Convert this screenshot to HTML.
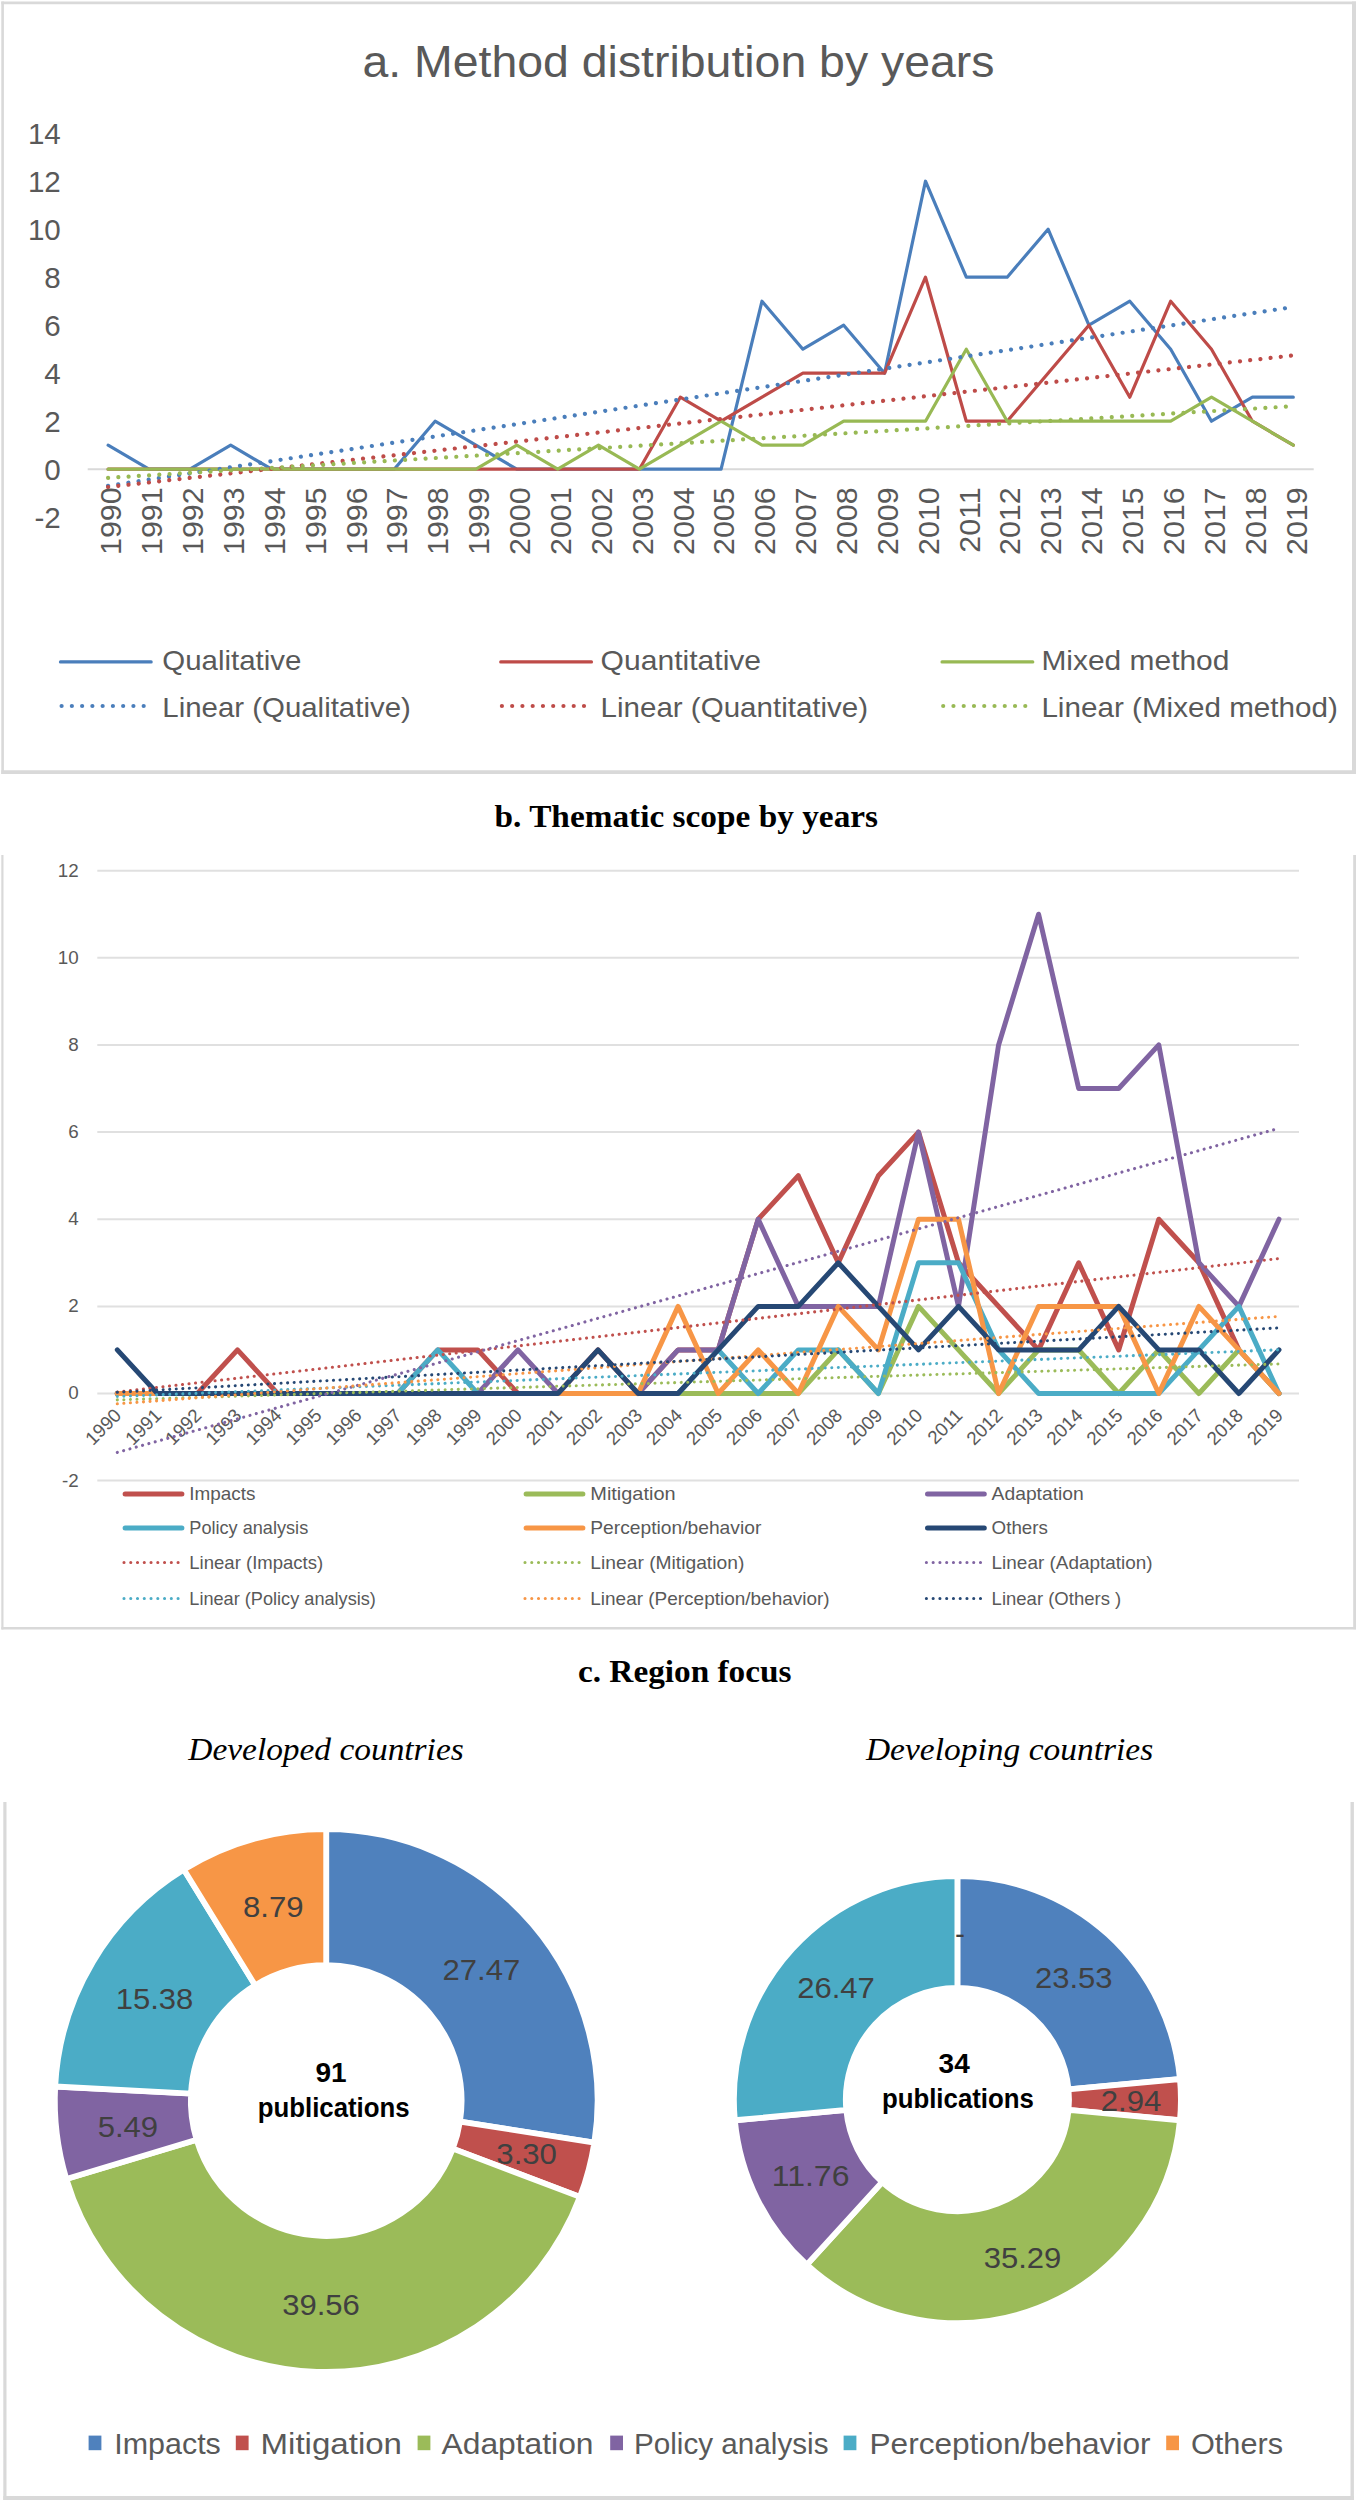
<!DOCTYPE html>
<html lang="en"><head><meta charset="utf-8"><title>Figure</title>
<style>
html,body{margin:0;padding:0;background:#fff;}
svg{display:block;font-family:"Liberation Sans",sans-serif;}
</style></head>
<body>
<svg width="1356" height="2500" viewBox="0 0 1356 2500">
<rect x="0" y="0" width="1356" height="2500" fill="#ffffff"/>
<line x1="1.3" y1="2.8" x2="1356.0" y2="2.8" stroke="#d9d9d9" stroke-width="2.7"/>
<line x1="2.6" y1="1.4" x2="2.6" y2="774.0" stroke="#d9d9d9" stroke-width="2.6"/>
<line x1="1354.0" y1="1.4" x2="1354.0" y2="774.0" stroke="#d9d9d9" stroke-width="4"/>
<line x1="1.3" y1="772.1" x2="1356.0" y2="772.1" stroke="#d9d9d9" stroke-width="3.8"/>
<text x="678.5" y="77.0" font-size="44.5" fill="#595959" text-anchor="middle" textLength="632.0" lengthAdjust="spacingAndGlyphs">a. Method distribution by years</text>
<text x="60.8" y="528.2" font-size="29.6" fill="#595959" text-anchor="end">-2</text>
<text x="60.8" y="480.2" font-size="29.6" fill="#595959" text-anchor="end">0</text>
<text x="60.8" y="432.2" font-size="29.6" fill="#595959" text-anchor="end">2</text>
<text x="60.8" y="384.2" font-size="29.6" fill="#595959" text-anchor="end">4</text>
<text x="60.8" y="336.2" font-size="29.6" fill="#595959" text-anchor="end">6</text>
<text x="60.8" y="288.2" font-size="29.6" fill="#595959" text-anchor="end">8</text>
<text x="60.8" y="240.2" font-size="29.6" fill="#595959" text-anchor="end">10</text>
<text x="60.8" y="192.2" font-size="29.6" fill="#595959" text-anchor="end">12</text>
<text x="60.8" y="144.2" font-size="29.6" fill="#595959" text-anchor="end">14</text>
<line x1="87.7" y1="469.2" x2="1313.7" y2="469.2" stroke="#d9d9d9" stroke-width="2"/>
<polyline points="108.1,445.2 149.0,469.2 189.9,469.2 230.7,445.2 271.6,469.2 312.5,469.2 353.3,469.2 394.2,469.2 435.1,421.2 475.9,445.2 516.8,469.2 557.7,469.2 598.5,469.2 639.4,469.2 680.3,469.2 721.1,469.2 762.0,301.2 802.9,349.2 843.7,325.2 884.6,373.2 925.5,181.2 966.3,277.2 1007.2,277.2 1048.1,229.2 1088.9,325.2 1129.8,301.2 1170.7,349.2 1211.5,421.2 1252.4,397.2 1293.3,397.2" fill="none" stroke="#4a7ebb" stroke-width="3.2" stroke-linejoin="round" stroke-linecap="round"/>
<polyline points="108.1,469.2 149.0,469.2 189.9,469.2 230.7,469.2 271.6,469.2 312.5,469.2 353.3,469.2 394.2,469.2 435.1,469.2 475.9,469.2 516.8,469.2 557.7,469.2 598.5,469.2 639.4,469.2 680.3,397.2 721.1,421.2 762.0,397.2 802.9,373.2 843.7,373.2 884.6,373.2 925.5,277.2 966.3,421.2 1007.2,421.2 1048.1,373.2 1088.9,325.2 1129.8,397.2 1170.7,301.2 1211.5,349.2 1252.4,421.2 1293.3,445.2" fill="none" stroke="#be4b48" stroke-width="3.2" stroke-linejoin="round" stroke-linecap="round"/>
<polyline points="108.1,469.2 149.0,469.2 189.9,469.2 230.7,469.2 271.6,469.2 312.5,469.2 353.3,469.2 394.2,469.2 435.1,469.2 475.9,469.2 516.8,445.2 557.7,469.2 598.5,445.2 639.4,469.2 680.3,445.2 721.1,421.2 762.0,445.2 802.9,445.2 843.7,421.2 884.6,421.2 925.5,421.2 966.3,349.2 1007.2,421.2 1048.1,421.2 1088.9,421.2 1129.8,421.2 1170.7,421.2 1211.5,397.2 1252.4,421.2 1293.3,445.2" fill="none" stroke="#98b954" stroke-width="3.2" stroke-linejoin="round" stroke-linecap="round"/>
<line x1="108.1" y1="485.8" x2="1293.3" y2="307.0" stroke="#4a7ebb" stroke-width="4.2" stroke-dasharray="0.01 10.25" stroke-linecap="round"/>
<line x1="108.1" y1="487.0" x2="1293.3" y2="355.4" stroke="#be4b48" stroke-width="4.2" stroke-dasharray="0.01 10.25" stroke-linecap="round"/>
<line x1="108.1" y1="477.8" x2="1293.3" y2="406.2" stroke="#98b954" stroke-width="4.2" stroke-dasharray="0.01 10.25" stroke-linecap="round"/>
<text x="121.4" y="487.4" font-size="30.4" fill="#595959" text-anchor="end" transform="rotate(-90 121.4 487.4)">1990</text>
<text x="162.3" y="487.4" font-size="30.4" fill="#595959" text-anchor="end" transform="rotate(-90 162.3 487.4)">1991</text>
<text x="203.2" y="487.4" font-size="30.4" fill="#595959" text-anchor="end" transform="rotate(-90 203.2 487.4)">1992</text>
<text x="244.0" y="487.4" font-size="30.4" fill="#595959" text-anchor="end" transform="rotate(-90 244.0 487.4)">1993</text>
<text x="284.9" y="487.4" font-size="30.4" fill="#595959" text-anchor="end" transform="rotate(-90 284.9 487.4)">1994</text>
<text x="325.8" y="487.4" font-size="30.4" fill="#595959" text-anchor="end" transform="rotate(-90 325.8 487.4)">1995</text>
<text x="366.6" y="487.4" font-size="30.4" fill="#595959" text-anchor="end" transform="rotate(-90 366.6 487.4)">1996</text>
<text x="407.5" y="487.4" font-size="30.4" fill="#595959" text-anchor="end" transform="rotate(-90 407.5 487.4)">1997</text>
<text x="448.4" y="487.4" font-size="30.4" fill="#595959" text-anchor="end" transform="rotate(-90 448.4 487.4)">1998</text>
<text x="489.2" y="487.4" font-size="30.4" fill="#595959" text-anchor="end" transform="rotate(-90 489.2 487.4)">1999</text>
<text x="530.1" y="487.4" font-size="30.4" fill="#595959" text-anchor="end" transform="rotate(-90 530.1 487.4)">2000</text>
<text x="571.0" y="487.4" font-size="30.4" fill="#595959" text-anchor="end" transform="rotate(-90 571.0 487.4)">2001</text>
<text x="611.8" y="487.4" font-size="30.4" fill="#595959" text-anchor="end" transform="rotate(-90 611.8 487.4)">2002</text>
<text x="652.7" y="487.4" font-size="30.4" fill="#595959" text-anchor="end" transform="rotate(-90 652.7 487.4)">2003</text>
<text x="693.6" y="487.4" font-size="30.4" fill="#595959" text-anchor="end" transform="rotate(-90 693.6 487.4)">2004</text>
<text x="734.4" y="487.4" font-size="30.4" fill="#595959" text-anchor="end" transform="rotate(-90 734.4 487.4)">2005</text>
<text x="775.3" y="487.4" font-size="30.4" fill="#595959" text-anchor="end" transform="rotate(-90 775.3 487.4)">2006</text>
<text x="816.2" y="487.4" font-size="30.4" fill="#595959" text-anchor="end" transform="rotate(-90 816.2 487.4)">2007</text>
<text x="857.0" y="487.4" font-size="30.4" fill="#595959" text-anchor="end" transform="rotate(-90 857.0 487.4)">2008</text>
<text x="897.9" y="487.4" font-size="30.4" fill="#595959" text-anchor="end" transform="rotate(-90 897.9 487.4)">2009</text>
<text x="938.8" y="487.4" font-size="30.4" fill="#595959" text-anchor="end" transform="rotate(-90 938.8 487.4)">2010</text>
<text x="979.6" y="487.4" font-size="30.4" fill="#595959" text-anchor="end" transform="rotate(-90 979.6 487.4)">2011</text>
<text x="1020.5" y="487.4" font-size="30.4" fill="#595959" text-anchor="end" transform="rotate(-90 1020.5 487.4)">2012</text>
<text x="1061.4" y="487.4" font-size="30.4" fill="#595959" text-anchor="end" transform="rotate(-90 1061.4 487.4)">2013</text>
<text x="1102.2" y="487.4" font-size="30.4" fill="#595959" text-anchor="end" transform="rotate(-90 1102.2 487.4)">2014</text>
<text x="1143.1" y="487.4" font-size="30.4" fill="#595959" text-anchor="end" transform="rotate(-90 1143.1 487.4)">2015</text>
<text x="1184.0" y="487.4" font-size="30.4" fill="#595959" text-anchor="end" transform="rotate(-90 1184.0 487.4)">2016</text>
<text x="1224.8" y="487.4" font-size="30.4" fill="#595959" text-anchor="end" transform="rotate(-90 1224.8 487.4)">2017</text>
<text x="1265.7" y="487.4" font-size="30.4" fill="#595959" text-anchor="end" transform="rotate(-90 1265.7 487.4)">2018</text>
<text x="1306.6" y="487.4" font-size="30.4" fill="#595959" text-anchor="end" transform="rotate(-90 1306.6 487.4)">2019</text>
<line x1="60.4" y1="661.9" x2="151.2" y2="661.9" stroke="#4a7ebb" stroke-width="3.1" stroke-linecap="round"/>
<line x1="61.6" y1="706.0" x2="149.4" y2="706.0" stroke="#4a7ebb" stroke-width="4.2" stroke-dasharray="0.01 10.25" stroke-linecap="round"/>
<text x="162.3" y="669.9" font-size="28.3" fill="#595959" textLength="139.0" lengthAdjust="spacingAndGlyphs">Qualitative</text>
<text x="162.3" y="716.5" font-size="28.3" fill="#595959" textLength="248.5" lengthAdjust="spacingAndGlyphs">Linear (Qualitative)</text>
<line x1="500.7" y1="661.9" x2="591.5" y2="661.9" stroke="#be4b48" stroke-width="3.1" stroke-linecap="round"/>
<line x1="501.9" y1="706.0" x2="589.7" y2="706.0" stroke="#be4b48" stroke-width="4.2" stroke-dasharray="0.01 10.25" stroke-linecap="round"/>
<text x="600.6" y="669.9" font-size="28.3" fill="#595959" textLength="160.5" lengthAdjust="spacingAndGlyphs">Quantitative</text>
<text x="600.6" y="716.5" font-size="28.3" fill="#595959" textLength="267.5" lengthAdjust="spacingAndGlyphs">Linear (Quantitative)</text>
<line x1="942.0" y1="661.9" x2="1032.8" y2="661.9" stroke="#98b954" stroke-width="3.1" stroke-linecap="round"/>
<line x1="943.2" y1="706.0" x2="1031.0" y2="706.0" stroke="#98b954" stroke-width="4.2" stroke-dasharray="0.01 10.25" stroke-linecap="round"/>
<text x="1041.4" y="669.9" font-size="28.3" fill="#595959" textLength="188.0" lengthAdjust="spacingAndGlyphs">Mixed method</text>
<text x="1041.4" y="716.5" font-size="28.3" fill="#595959" textLength="296.5" lengthAdjust="spacingAndGlyphs">Linear (Mixed method)</text>
<text x="686.3" y="826.8" font-size="32" fill="#000" text-anchor="middle" font-family="'Liberation Serif', serif" font-weight="bold" textLength="383.5" lengthAdjust="spacingAndGlyphs">b. Thematic scope by years</text>
<text x="684.7" y="1682.0" font-size="32" fill="#000" text-anchor="middle" font-family="'Liberation Serif', serif" font-weight="bold" textLength="213.5" lengthAdjust="spacingAndGlyphs">c. Region focus</text>
<text x="326.0" y="1759.6" font-size="32" fill="#000" text-anchor="middle" font-family="'Liberation Serif', serif" font-style="italic" textLength="275.4" lengthAdjust="spacingAndGlyphs">Developed countries</text>
<text x="1009.6" y="1759.8" font-size="32" fill="#000" text-anchor="middle" font-family="'Liberation Serif', serif" font-style="italic" textLength="287.3" lengthAdjust="spacingAndGlyphs">Developing countries</text>
<line x1="2.4" y1="855.0" x2="2.4" y2="1629.5" stroke="#d9d9d9" stroke-width="2.2"/>
<line x1="1354.6" y1="855.0" x2="1354.6" y2="1629.3" stroke="#d9d9d9" stroke-width="2.8"/>
<line x1="1.4" y1="1628.3" x2="1356.0" y2="1628.3" stroke="#d9d9d9" stroke-width="2.4"/>
<line x1="97.3" y1="1480.6" x2="1299.0" y2="1480.6" stroke="#e0e0e0" stroke-width="2"/>
<text x="78.6" y="1486.5" font-size="18.8" fill="#595959" text-anchor="end">-2</text>
<line x1="97.3" y1="1393.5" x2="1299.0" y2="1393.5" stroke="#e0e0e0" stroke-width="2"/>
<text x="78.6" y="1399.4" font-size="18.8" fill="#595959" text-anchor="end">0</text>
<line x1="97.3" y1="1306.4" x2="1299.0" y2="1306.4" stroke="#e0e0e0" stroke-width="2"/>
<text x="78.6" y="1312.3" font-size="18.8" fill="#595959" text-anchor="end">2</text>
<line x1="97.3" y1="1219.2" x2="1299.0" y2="1219.2" stroke="#e0e0e0" stroke-width="2"/>
<text x="78.6" y="1225.1" font-size="18.8" fill="#595959" text-anchor="end">4</text>
<line x1="97.3" y1="1132.1" x2="1299.0" y2="1132.1" stroke="#e0e0e0" stroke-width="2"/>
<text x="78.6" y="1138.0" font-size="18.8" fill="#595959" text-anchor="end">6</text>
<line x1="97.3" y1="1044.9" x2="1299.0" y2="1044.9" stroke="#e0e0e0" stroke-width="2"/>
<text x="78.6" y="1050.8" font-size="18.8" fill="#595959" text-anchor="end">8</text>
<line x1="97.3" y1="957.8" x2="1299.0" y2="957.8" stroke="#e0e0e0" stroke-width="2"/>
<text x="78.6" y="963.7" font-size="18.8" fill="#595959" text-anchor="end">10</text>
<line x1="97.3" y1="870.7" x2="1299.0" y2="870.7" stroke="#e0e0e0" stroke-width="2"/>
<text x="78.6" y="876.6" font-size="18.8" fill="#595959" text-anchor="end">12</text>
<text x="122.5" y="1416.6" font-size="18.8" fill="#595959" text-anchor="end" transform="rotate(-45 122.5 1416.6)">1990</text>
<text x="162.6" y="1416.6" font-size="18.8" fill="#595959" text-anchor="end" transform="rotate(-45 162.6 1416.6)">1991</text>
<text x="202.6" y="1416.6" font-size="18.8" fill="#595959" text-anchor="end" transform="rotate(-45 202.6 1416.6)">1992</text>
<text x="242.7" y="1416.6" font-size="18.8" fill="#595959" text-anchor="end" transform="rotate(-45 242.7 1416.6)">1993</text>
<text x="282.8" y="1416.6" font-size="18.8" fill="#595959" text-anchor="end" transform="rotate(-45 282.8 1416.6)">1994</text>
<text x="322.8" y="1416.6" font-size="18.8" fill="#595959" text-anchor="end" transform="rotate(-45 322.8 1416.6)">1995</text>
<text x="362.9" y="1416.6" font-size="18.8" fill="#595959" text-anchor="end" transform="rotate(-45 362.9 1416.6)">1996</text>
<text x="402.9" y="1416.6" font-size="18.8" fill="#595959" text-anchor="end" transform="rotate(-45 402.9 1416.6)">1997</text>
<text x="443.0" y="1416.6" font-size="18.8" fill="#595959" text-anchor="end" transform="rotate(-45 443.0 1416.6)">1998</text>
<text x="483.0" y="1416.6" font-size="18.8" fill="#595959" text-anchor="end" transform="rotate(-45 483.0 1416.6)">1999</text>
<text x="523.1" y="1416.6" font-size="18.8" fill="#595959" text-anchor="end" transform="rotate(-45 523.1 1416.6)">2000</text>
<text x="563.2" y="1416.6" font-size="18.8" fill="#595959" text-anchor="end" transform="rotate(-45 563.2 1416.6)">2001</text>
<text x="603.2" y="1416.6" font-size="18.8" fill="#595959" text-anchor="end" transform="rotate(-45 603.2 1416.6)">2002</text>
<text x="643.3" y="1416.6" font-size="18.8" fill="#595959" text-anchor="end" transform="rotate(-45 643.3 1416.6)">2003</text>
<text x="683.3" y="1416.6" font-size="18.8" fill="#595959" text-anchor="end" transform="rotate(-45 683.3 1416.6)">2004</text>
<text x="723.4" y="1416.6" font-size="18.8" fill="#595959" text-anchor="end" transform="rotate(-45 723.4 1416.6)">2005</text>
<text x="763.4" y="1416.6" font-size="18.8" fill="#595959" text-anchor="end" transform="rotate(-45 763.4 1416.6)">2006</text>
<text x="803.5" y="1416.6" font-size="18.8" fill="#595959" text-anchor="end" transform="rotate(-45 803.5 1416.6)">2007</text>
<text x="843.5" y="1416.6" font-size="18.8" fill="#595959" text-anchor="end" transform="rotate(-45 843.5 1416.6)">2008</text>
<text x="883.6" y="1416.6" font-size="18.8" fill="#595959" text-anchor="end" transform="rotate(-45 883.6 1416.6)">2009</text>
<text x="923.7" y="1416.6" font-size="18.8" fill="#595959" text-anchor="end" transform="rotate(-45 923.7 1416.6)">2010</text>
<text x="963.7" y="1416.6" font-size="18.8" fill="#595959" text-anchor="end" transform="rotate(-45 963.7 1416.6)">2011</text>
<text x="1003.8" y="1416.6" font-size="18.8" fill="#595959" text-anchor="end" transform="rotate(-45 1003.8 1416.6)">2012</text>
<text x="1043.8" y="1416.6" font-size="18.8" fill="#595959" text-anchor="end" transform="rotate(-45 1043.8 1416.6)">2013</text>
<text x="1083.9" y="1416.6" font-size="18.8" fill="#595959" text-anchor="end" transform="rotate(-45 1083.9 1416.6)">2014</text>
<text x="1123.9" y="1416.6" font-size="18.8" fill="#595959" text-anchor="end" transform="rotate(-45 1123.9 1416.6)">2015</text>
<text x="1164.0" y="1416.6" font-size="18.8" fill="#595959" text-anchor="end" transform="rotate(-45 1164.0 1416.6)">2016</text>
<text x="1204.1" y="1416.6" font-size="18.8" fill="#595959" text-anchor="end" transform="rotate(-45 1204.1 1416.6)">2017</text>
<text x="1244.1" y="1416.6" font-size="18.8" fill="#595959" text-anchor="end" transform="rotate(-45 1244.1 1416.6)">2018</text>
<text x="1284.2" y="1416.6" font-size="18.8" fill="#595959" text-anchor="end" transform="rotate(-45 1284.2 1416.6)">2019</text>
<polyline points="117.3,1393.5 157.4,1393.5 197.4,1393.5 237.5,1349.9 277.6,1393.5 317.6,1393.5 357.7,1393.5 397.7,1393.5 437.8,1349.9 477.8,1349.9 517.9,1393.5 558.0,1393.5 598.0,1349.9 638.1,1393.5 678.1,1349.9 718.2,1349.9 758.2,1219.2 798.3,1175.7 838.3,1262.8 878.4,1175.7 918.5,1132.1 958.5,1262.8 998.6,1306.4 1038.6,1349.9 1078.7,1262.8 1118.7,1349.9 1158.8,1219.2 1198.9,1262.8 1238.9,1349.9 1279.0,1393.5" fill="none" stroke="#c0504d" stroke-width="5" stroke-linejoin="round" stroke-linecap="round"/>
<polyline points="117.3,1393.5 157.4,1393.5 197.4,1393.5 237.5,1393.5 277.6,1393.5 317.6,1393.5 357.7,1393.5 397.7,1393.5 437.8,1393.5 477.8,1393.5 517.9,1393.5 558.0,1393.5 598.0,1393.5 638.1,1393.5 678.1,1393.5 718.2,1393.5 758.2,1393.5 798.3,1393.5 838.3,1349.9 878.4,1393.5 918.5,1306.4 958.5,1349.9 998.6,1393.5 1038.6,1349.9 1078.7,1349.9 1118.7,1393.5 1158.8,1349.9 1198.9,1393.5 1238.9,1349.9 1279.0,1393.5" fill="none" stroke="#9bbb59" stroke-width="5" stroke-linejoin="round" stroke-linecap="round"/>
<polyline points="117.3,1393.5 157.4,1393.5 197.4,1393.5 237.5,1393.5 277.6,1393.5 317.6,1393.5 357.7,1393.5 397.7,1393.5 437.8,1393.5 477.8,1393.5 517.9,1349.9 558.0,1393.5 598.0,1393.5 638.1,1393.5 678.1,1349.9 718.2,1349.9 758.2,1219.2 798.3,1306.4 838.3,1306.4 878.4,1306.4 918.5,1132.1 958.5,1306.4 998.6,1044.9 1038.6,914.2 1078.7,1088.5 1118.7,1088.5 1158.8,1044.9 1198.9,1262.8 1238.9,1306.4 1279.0,1219.2" fill="none" stroke="#8064a2" stroke-width="5" stroke-linejoin="round" stroke-linecap="round"/>
<polyline points="117.3,1393.5 157.4,1393.5 197.4,1393.5 237.5,1393.5 277.6,1393.5 317.6,1393.5 357.7,1393.5 397.7,1393.5 437.8,1349.9 477.8,1393.5 517.9,1393.5 558.0,1393.5 598.0,1393.5 638.1,1393.5 678.1,1393.5 718.2,1349.9 758.2,1393.5 798.3,1349.9 838.3,1349.9 878.4,1393.5 918.5,1262.8 958.5,1262.8 998.6,1349.9 1038.6,1393.5 1078.7,1393.5 1118.7,1393.5 1158.8,1393.5 1198.9,1349.9 1238.9,1306.4 1279.0,1393.5" fill="none" stroke="#4bacc6" stroke-width="5" stroke-linejoin="round" stroke-linecap="round"/>
<polyline points="117.3,1393.5 157.4,1393.5 197.4,1393.5 237.5,1393.5 277.6,1393.5 317.6,1393.5 357.7,1393.5 397.7,1393.5 437.8,1393.5 477.8,1393.5 517.9,1393.5 558.0,1393.5 598.0,1393.5 638.1,1393.5 678.1,1306.4 718.2,1393.5 758.2,1349.9 798.3,1393.5 838.3,1306.4 878.4,1349.9 918.5,1219.2 958.5,1219.2 998.6,1393.5 1038.6,1306.4 1078.7,1306.4 1118.7,1306.4 1158.8,1393.5 1198.9,1306.4 1238.9,1349.9 1279.0,1393.5" fill="none" stroke="#f79646" stroke-width="5" stroke-linejoin="round" stroke-linecap="round"/>
<polyline points="117.3,1349.9 157.4,1393.5 197.4,1393.5 237.5,1393.5 277.6,1393.5 317.6,1393.5 357.7,1393.5 397.7,1393.5 437.8,1393.5 477.8,1393.5 517.9,1393.5 558.0,1393.5 598.0,1349.9 638.1,1393.5 678.1,1393.5 718.2,1349.9 758.2,1306.4 798.3,1306.4 838.3,1262.8 878.4,1306.4 918.5,1349.9 958.5,1306.4 998.6,1349.9 1038.6,1349.9 1078.7,1349.9 1118.7,1306.4 1158.8,1349.9 1198.9,1349.9 1238.9,1393.5 1279.0,1349.9" fill="none" stroke="#264874" stroke-width="5" stroke-linejoin="round" stroke-linecap="round"/>
<line x1="117.3" y1="1392.0" x2="1279.0" y2="1258.5" stroke="#c0504d" stroke-width="3.1" stroke-dasharray="0.01 6.55" stroke-linecap="round"/>
<line x1="117.3" y1="1399.9" x2="1279.0" y2="1363.9" stroke="#9bbb59" stroke-width="3.1" stroke-dasharray="0.01 6.55" stroke-linecap="round"/>
<line x1="117.3" y1="1452.4" x2="1279.0" y2="1128.3" stroke="#8064a2" stroke-width="3.1" stroke-dasharray="0.01 6.55" stroke-linecap="round"/>
<line x1="117.3" y1="1396.5" x2="1279.0" y2="1349.8" stroke="#4bacc6" stroke-width="3.1" stroke-dasharray="0.01 6.55" stroke-linecap="round"/>
<line x1="117.3" y1="1403.8" x2="1279.0" y2="1316.4" stroke="#f79646" stroke-width="3.1" stroke-dasharray="0.01 6.55" stroke-linecap="round"/>
<line x1="117.3" y1="1392.3" x2="1279.0" y2="1327.9" stroke="#264874" stroke-width="3.1" stroke-dasharray="0.01 6.55" stroke-linecap="round"/>
<line x1="125.1" y1="1494.0" x2="181.9" y2="1494.0" stroke="#c0504d" stroke-width="5" stroke-linecap="round"/>
<text x="189.3" y="1500.1" font-size="17.7" fill="#595959" textLength="66.2" lengthAdjust="spacingAndGlyphs">Impacts</text>
<line x1="124.0" y1="1562.5" x2="179.6" y2="1562.5" stroke="#c0504d" stroke-width="3.1" stroke-dasharray="0.01 6.75" stroke-linecap="round"/>
<text x="189.3" y="1568.6" font-size="17.7" fill="#595959" textLength="133.9" lengthAdjust="spacingAndGlyphs">Linear (Impacts)</text>
<line x1="526.1" y1="1494.0" x2="582.9" y2="1494.0" stroke="#9bbb59" stroke-width="5" stroke-linecap="round"/>
<text x="590.3" y="1500.1" font-size="17.7" fill="#595959" textLength="85.3" lengthAdjust="spacingAndGlyphs">Mitigation</text>
<line x1="525.0" y1="1562.5" x2="580.6" y2="1562.5" stroke="#9bbb59" stroke-width="3.1" stroke-dasharray="0.01 6.75" stroke-linecap="round"/>
<text x="590.3" y="1568.6" font-size="17.7" fill="#595959" textLength="154.0" lengthAdjust="spacingAndGlyphs">Linear (Mitigation)</text>
<line x1="927.5" y1="1494.0" x2="984.3" y2="1494.0" stroke="#8064a2" stroke-width="5" stroke-linecap="round"/>
<text x="991.6" y="1500.1" font-size="17.7" fill="#595959" textLength="92.2" lengthAdjust="spacingAndGlyphs">Adaptation</text>
<line x1="926.4" y1="1562.5" x2="982.0" y2="1562.5" stroke="#8064a2" stroke-width="3.1" stroke-dasharray="0.01 6.75" stroke-linecap="round"/>
<text x="991.6" y="1568.6" font-size="17.7" fill="#595959" textLength="161.0" lengthAdjust="spacingAndGlyphs">Linear (Adaptation)</text>
<line x1="125.1" y1="1528.0" x2="181.9" y2="1528.0" stroke="#4bacc6" stroke-width="5" stroke-linecap="round"/>
<text x="189.3" y="1534.1" font-size="17.7" fill="#595959" textLength="118.9" lengthAdjust="spacingAndGlyphs">Policy analysis</text>
<line x1="124.0" y1="1598.5" x2="179.6" y2="1598.5" stroke="#4bacc6" stroke-width="3.1" stroke-dasharray="0.01 6.75" stroke-linecap="round"/>
<text x="189.3" y="1604.6" font-size="17.7" fill="#595959" textLength="186.6" lengthAdjust="spacingAndGlyphs">Linear (Policy analysis)</text>
<line x1="526.1" y1="1528.0" x2="582.9" y2="1528.0" stroke="#f79646" stroke-width="5" stroke-linecap="round"/>
<text x="590.3" y="1534.1" font-size="17.7" fill="#595959" textLength="171.0" lengthAdjust="spacingAndGlyphs">Perception/behavior</text>
<line x1="525.0" y1="1598.5" x2="580.6" y2="1598.5" stroke="#f79646" stroke-width="3.1" stroke-dasharray="0.01 6.75" stroke-linecap="round"/>
<text x="590.3" y="1604.6" font-size="17.7" fill="#595959" textLength="239.3" lengthAdjust="spacingAndGlyphs">Linear (Perception/behavior)</text>
<line x1="927.5" y1="1528.0" x2="984.3" y2="1528.0" stroke="#264874" stroke-width="5" stroke-linecap="round"/>
<text x="991.6" y="1534.1" font-size="17.7" fill="#595959" textLength="56.3" lengthAdjust="spacingAndGlyphs">Others</text>
<line x1="926.4" y1="1598.5" x2="982.0" y2="1598.5" stroke="#264874" stroke-width="3.1" stroke-dasharray="0.01 6.75" stroke-linecap="round"/>
<text x="991.6" y="1604.6" font-size="17.7" fill="#595959" textLength="129.6" lengthAdjust="spacingAndGlyphs">Linear (Others )</text>
<line x1="4.9" y1="1802.0" x2="4.9" y2="2500.0" stroke="#d9d9d9" stroke-width="3.2"/>
<line x1="1352.2" y1="1802.0" x2="1352.2" y2="2500.0" stroke="#d9d9d9" stroke-width="3.4"/>
<line x1="3.3" y1="2498.2" x2="1354.0" y2="2498.2" stroke="#d9d9d9" stroke-width="4.4"/>
<path d="M326.20,1829.20 A271.4,271.4 0 0 1 594.33,2142.60 L459.97,2121.55 A135.4,135.4 0 0 0 326.20,1965.20 Z" fill="#4f81bd" stroke="#fff" stroke-width="5.8" stroke-linejoin="miter"/>
<path d="M594.33,2142.60 A271.4,271.4 0 0 1 579.94,2196.90 L452.79,2148.64 A135.4,135.4 0 0 0 459.97,2121.55 Z" fill="#c0504d" stroke="#fff" stroke-width="5.8" stroke-linejoin="miter"/>
<path d="M579.94,2196.90 A271.4,271.4 0 0 1 66.37,2178.98 L196.57,2139.70 A135.4,135.4 0 0 0 452.79,2148.64 Z" fill="#9bbb59" stroke="#fff" stroke-width="5.8" stroke-linejoin="miter"/>
<path d="M66.37,2178.98 A271.4,271.4 0 0 1 55.17,2086.49 L190.98,2093.56 A135.4,135.4 0 0 0 196.57,2139.70 Z" fill="#8064a2" stroke="#fff" stroke-width="5.8" stroke-linejoin="miter"/>
<path d="M55.17,2086.49 A271.4,271.4 0 0 1 183.80,1869.56 L255.16,1985.33 A135.4,135.4 0 0 0 190.98,2093.56 Z" fill="#4bacc6" stroke="#fff" stroke-width="5.8" stroke-linejoin="miter"/>
<path d="M183.80,1869.56 A271.4,271.4 0 0 1 326.20,1829.20 L326.20,1965.20 A135.4,135.4 0 0 0 255.16,1985.33 Z" fill="#f79646" stroke="#fff" stroke-width="5.8" stroke-linejoin="miter"/>
<path d="M957.40,1876.10 A223.5,223.5 0 0 1 1179.95,2079.02 L1068.53,2089.32 A111.6,111.6 0 0 0 957.40,1988.00 Z" fill="#4f81bd" stroke="#fff" stroke-width="5.8" stroke-linejoin="miter"/>
<path d="M1179.95,2079.02 A223.5,223.5 0 0 1 1179.94,2120.25 L1068.52,2109.91 A111.6,111.6 0 0 0 1068.53,2089.32 Z" fill="#c0504d" stroke="#fff" stroke-width="5.8" stroke-linejoin="miter"/>
<path d="M1179.94,2120.25 A223.5,223.5 0 0 1 806.81,2264.75 L882.21,2182.07 A111.6,111.6 0 0 0 1068.52,2109.91 Z" fill="#9bbb59" stroke="#fff" stroke-width="5.8" stroke-linejoin="miter"/>
<path d="M806.81,2264.75 A223.5,223.5 0 0 1 734.86,2120.25 L846.28,2109.91 A111.6,111.6 0 0 0 882.21,2182.07 Z" fill="#8064a2" stroke="#fff" stroke-width="5.8" stroke-linejoin="miter"/>
<path d="M734.86,2120.25 A223.5,223.5 0 0 1 957.40,1876.10 L957.40,1988.00 A111.6,111.6 0 0 0 846.28,2109.91 Z" fill="#4bacc6" stroke="#fff" stroke-width="5.8" stroke-linejoin="miter"/>
<text x="481.4" y="1980.4" font-size="30.3" fill="#404040" text-anchor="middle" textLength="77.7" lengthAdjust="spacingAndGlyphs">27.47</text>
<text x="526.6" y="2164.4" font-size="30.3" fill="#404040" text-anchor="middle" textLength="60.5" lengthAdjust="spacingAndGlyphs">3.30</text>
<text x="321.0" y="2314.8" font-size="30.3" fill="#404040" text-anchor="middle" textLength="77.7" lengthAdjust="spacingAndGlyphs">39.56</text>
<text x="127.9" y="2136.8" font-size="30.3" fill="#404040" text-anchor="middle" textLength="60.5" lengthAdjust="spacingAndGlyphs">5.49</text>
<text x="154.5" y="2008.8" font-size="30.3" fill="#404040" text-anchor="middle" textLength="77.7" lengthAdjust="spacingAndGlyphs">15.38</text>
<text x="273.3" y="1917.2" font-size="30.3" fill="#404040" text-anchor="middle" textLength="60.5" lengthAdjust="spacingAndGlyphs">8.79</text>
<text x="1073.8" y="1987.7" font-size="30.3" fill="#404040" text-anchor="middle" textLength="77.7" lengthAdjust="spacingAndGlyphs">23.53</text>
<text x="1131.0" y="2111.3" font-size="30.3" fill="#404040" text-anchor="middle" textLength="60.5" lengthAdjust="spacingAndGlyphs">2.94</text>
<text x="1022.5" y="2268.4" font-size="30.3" fill="#404040" text-anchor="middle" textLength="77.7" lengthAdjust="spacingAndGlyphs">35.29</text>
<text x="810.6" y="2186.1" font-size="30.3" fill="#404040" text-anchor="middle" textLength="77.7" lengthAdjust="spacingAndGlyphs">11.76</text>
<text x="836.0" y="1997.7" font-size="30.3" fill="#404040" text-anchor="middle" textLength="77.7" lengthAdjust="spacingAndGlyphs">26.47</text>
<text x="960.1" y="1944.3" font-size="30" fill="#404040" text-anchor="middle">-</text>
<text x="331.0" y="2081.7" font-size="28" fill="#000" text-anchor="middle" font-weight="bold">91</text>
<text x="333.7" y="2117.3" font-size="27.6" fill="#000" text-anchor="middle" font-weight="bold" textLength="152.0" lengthAdjust="spacingAndGlyphs">publications</text>
<text x="954.2" y="2072.7" font-size="28" fill="#000" text-anchor="middle" font-weight="bold">34</text>
<text x="957.9" y="2108.3" font-size="27.6" fill="#000" text-anchor="middle" font-weight="bold" textLength="152.0" lengthAdjust="spacingAndGlyphs">publications</text>
<rect x="88.6" y="2435.6" width="12.8" height="14.6" fill="#4f81bd"/>
<text x="114.3" y="2453.6" font-size="29.6" fill="#595959" textLength="106.5" lengthAdjust="spacingAndGlyphs">Impacts</text>
<rect x="235.8" y="2435.6" width="12.8" height="14.6" fill="#c0504d"/>
<text x="260.5" y="2453.6" font-size="29.6" fill="#595959" textLength="141.5" lengthAdjust="spacingAndGlyphs">Mitigation</text>
<rect x="417.6" y="2435.6" width="12.8" height="14.6" fill="#9bbb59"/>
<text x="441.5" y="2453.6" font-size="29.6" fill="#595959" textLength="152.0" lengthAdjust="spacingAndGlyphs">Adaptation</text>
<rect x="610.2" y="2435.6" width="12.8" height="14.6" fill="#8064a2"/>
<text x="634.0" y="2453.6" font-size="29.6" fill="#595959" textLength="194.5" lengthAdjust="spacingAndGlyphs">Policy analysis</text>
<rect x="843.6" y="2435.6" width="12.8" height="14.6" fill="#4bacc6"/>
<text x="869.5" y="2453.6" font-size="29.6" fill="#595959" textLength="281.0" lengthAdjust="spacingAndGlyphs">Perception/behavior</text>
<rect x="1166.2" y="2435.6" width="12.8" height="14.6" fill="#f79646"/>
<text x="1191.0" y="2453.6" font-size="29.6" fill="#595959" textLength="92.0" lengthAdjust="spacingAndGlyphs">Others</text>
</svg>
</body></html>
